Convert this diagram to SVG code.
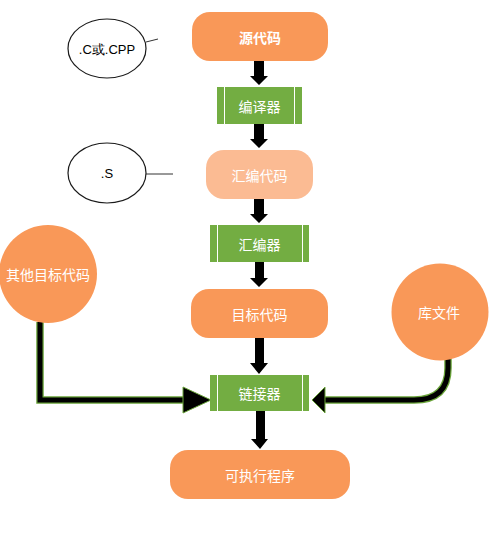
<svg xmlns="http://www.w3.org/2000/svg" width="492" height="550" viewBox="0 0 492 550">
<style>
.box{fill:#F99858}
.light{fill:#FBBB93}
.proc{fill:#73AD42}
.inner{stroke:#ffffff;stroke-width:1;fill:none}
.t{font-family:"Noto Sans CJK SC","Microsoft YaHei",sans-serif;font-size:14px;fill:#ffffff;text-anchor:middle;dominant-baseline:central}
.b{font-weight:bold}
.et{font-family:"Liberation Sans",Arial,sans-serif;font-size:13px;fill:#000000;text-anchor:middle;dominant-baseline:central}
.ell{fill:#ffffff;stroke:#1a1a1a;stroke-width:1.2}
.lead{stroke:#333333;stroke-width:1;fill:none}
.arr{fill:#000000}
.outer{stroke:#6AA43A;stroke-width:7.5;fill:none}
.core{stroke:#000000;stroke-width:5;fill:none}
.head{fill:#000000;stroke:#6AA43A;stroke-width:1}
</style>
<rect width="492" height="550" fill="#ffffff"/>
<g id="connectors">
<polygon class="arr" points="254,61 264,61 264,76 268,76 259,85 250,76 254,76"/>
<polygon class="arr" points="254,124 264,124 264,139 268,139 259,148 250,139 254,139"/>
<polygon class="arr" points="254,199 264,199 264,214 268,214 259,223 250,214 254,214"/>
<polygon class="arr" points="255,262 264,262 264,278 268,278 259,287 250,278 255,278"/>
<polygon class="arr" points="255,338 264,338 264,363 268,363 259,374 250,363 255,363"/>
<polygon class="arr" points="256,411 265,411 265,439 268,439 260,449 251,439 256,439"/>
<path class="outer" d="M40,322 L40,400 L186,400"/>
<path class="core" d="M40,322 L40,400 L186,400"/>
<polygon class="head" points="183,387 211,400 183,413"/>
<path class="outer" d="M448,356 L448,368 Q448,400 414,400 L322,400"/>
<path class="core" d="M448,356 L448,368 Q448,400 414,400 L322,400"/>
<polygon class="head" points="325,387 312,400 325,413"/>
<path class="lead" d="M146,42 L158,39"/>
<path class="lead" d="M146,174 L173,174"/>
</g>
<g id="n-src">
<rect class="box" x="192" y="12" width="136" height="49" rx="18"/>
<text class="t b" x="260" y="36.5">源代码</text>
</g>
<g id="n-compiler">
<rect class="proc" x="217" y="87" width="85" height="37"/>
<line class="inner" x1="224.5" y1="87" x2="224.5" y2="124"/>
<line class="inner" x1="294.5" y1="87" x2="294.5" y2="124"/>
<text class="t" x="259.5" y="105.5">编译器</text>
</g>
<g id="n-asm-code">
<rect class="light" x="206" y="150" width="107" height="49" rx="18"/>
<text class="t" x="259.5" y="174.5">汇编代码</text>
</g>
<g id="n-assembler">
<rect class="proc" x="210" y="225" width="99" height="37"/>
<line class="inner" x1="217.5" y1="225" x2="217.5" y2="262"/>
<line class="inner" x1="302.5" y1="225" x2="302.5" y2="262"/>
<text class="t" x="259.5" y="243.5">汇编器</text>
</g>
<g id="n-obj">
<rect class="box" x="191" y="289" width="137" height="49" rx="18"/>
<text class="t" x="259.5" y="313.5">目标代码</text>
</g>
<g id="n-linker">
<rect class="proc" x="210" y="375" width="99" height="36"/>
<line class="inner" x1="217.5" y1="375" x2="217.5" y2="411"/>
<line class="inner" x1="302.5" y1="375" x2="302.5" y2="411"/>
<text class="t" x="259.5" y="393">链接器</text>
</g>
<g id="n-exe">
<rect class="box" x="170" y="450" width="180" height="49" rx="18"/>
<text class="t" x="260" y="474.5">可执行程序</text>
</g>
<g id="n-other">
<circle class="box" cx="48" cy="274" r="49"/>
<text class="t" x="48" y="274">其他目标代码</text>
</g>
<g id="n-lib">
<circle class="box" cx="440" cy="312" r="48.5"/>
<text class="t" x="439" y="312">库文件</text>
</g>
<g id="n-ext-c">
<ellipse class="ell" cx="107" cy="48.5" rx="39" ry="29.5"/>
<text class="et" x="107" y="49">.C或.CPP</text>
</g>
<g id="n-ext-s">
<ellipse class="ell" cx="107" cy="173" rx="39" ry="30"/>
<text class="et" x="107" y="173">.S</text>
</g>
</svg>
